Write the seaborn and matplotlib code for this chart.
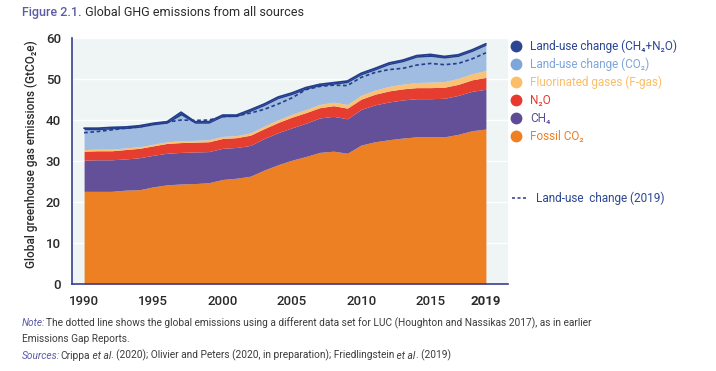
import numpy as np
import pandas as pd
import seaborn as sns
import matplotlib.pyplot as plt
from matplotlib.lines import Line2D

years = list(range(1990, 2020))

fossil_co2 = [22.6, 22.6, 22.6, 22.9, 23.0, 23.7, 24.2, 24.4, 24.5, 24.7,
              25.5, 25.8, 26.3, 27.8, 29.1, 30.2, 31.1, 32.1, 32.4, 31.9,
              33.9, 34.7, 35.2, 35.6, 35.9, 35.9, 35.9, 36.5, 37.4, 37.8]
ch4 = [7.6, 7.7, 7.7, 7.6, 7.8, 7.7, 7.7, 7.7, 7.7, 7.6,
       7.6, 7.5, 7.5, 7.7, 7.8, 7.9, 8.1, 8.4, 8.5, 8.4,
       8.7, 9.0, 9.2, 9.3, 9.3, 9.3, 9.4, 9.5, 9.6, 9.7]
n2o = [2.2, 2.2, 2.2, 2.3, 2.3, 2.3, 2.4, 2.4, 2.4, 2.4,
       2.4, 2.4, 2.5, 2.4, 2.5, 2.6, 2.6, 2.5, 2.6, 2.6,
       2.5, 2.6, 2.7, 2.7, 2.7, 2.7, 2.7, 2.7, 2.8, 2.9]
fgas = [0.4, 0.4, 0.4, 0.4, 0.4, 0.4, 0.4, 0.45, 0.45, 0.5,
        0.5, 0.5, 0.55, 0.6, 0.65, 0.7, 0.75, 0.8, 0.85, 0.9,
        0.95, 1.0, 1.1, 1.15, 1.25, 1.35, 1.35, 1.45, 1.5, 1.65]
luc_co2 = [4.8, 4.7, 4.9, 4.7, 4.7, 4.7, 4.5, 6.25, 4.15, 4.0,
           4.8, 4.6, 5.25, 5.0, 5.15, 4.8, 4.95, 4.5, 4.35, 5.3,
           4.95, 4.9, 5.3, 5.45, 6.15, 6.25, 5.75, 5.35, 5.4, 6.15]
luc_other = [0.4, 0.4, 0.4, 0.4, 0.4, 0.4, 0.4, 0.7, 0.4, 0.4,
             0.4, 0.4, 0.4, 0.4, 0.4, 0.4, 0.4, 0.4, 0.4, 0.4,
             0.4, 0.4, 0.4, 0.4, 0.4, 0.5, 0.4, 0.4, 0.4, 0.4]
# total with the alternative LUC data set (Houghton and Nassikas 2017)
total_alt_luc = [36.9, 37.2, 37.6, 38.0, 38.3, 39.0, 39.5, 40.0, 39.9, 40.0,
                 40.8, 41.0, 41.7, 42.6, 43.9, 45.4, 47.4, 48.2, 48.5, 48.4,
                 50.4, 51.6, 52.3, 52.6, 53.4, 53.8, 53.5, 53.8, 54.9, 56.4]

labels = ['Fossil CO\u2082', 'CH\u2084', 'N\u2082O', 'Fluorinated gases (F-gas)',
          'Land-use change (CO\u2082)', 'Land-use change (CH\u2084+N\u2082O)']
fill_colors = ['#ee8024', '#635099', '#e53e30', '#fbc274', '#a0bce0', '#233e8c']
label_colors = ['#ee7f22', '#5e4b97', '#e63a2e', '#fbbe6b', '#7ea6d9', '#2b4693']
xticks = [1990, 1995, 2000, 2005, 2010, 2015, 2019]

sns.set_theme(style="white")
plt.rcParams['font.family'] = ['Roboto', 'DejaVu Sans']

navy = '#3a3f8f'
dark = '#2a2a2a'

fig = plt.figure(figsize=(7.16, 3.71), dpi=100)
ax = fig.add_axes([0.1006, 0.2345, 0.609, 0.663])
ax.set_facecolor('#eff5f5')

stacks = [fossil_co2, ch4, n2o, fgas, luc_co2, luc_other]
ax.stackplot(years, *stacks, colors=fill_colors, linewidth=0)

df = pd.DataFrame({'year': years, 'total': np.sum(stacks, axis=0),
                   'alt': total_alt_luc})
sns.lineplot(data=df, x='year', y='total', color='#233e8c', linewidth=1.3, ax=ax)
sns.lineplot(data=df, x='year', y='alt', color='#233e8c', linewidth=1.2,
             dashes=(2.2, 1.6), ax=ax)

ax.set_xlim(1989.13, 2020.6)
ax.set_ylim(0, 60)
ax.set_yticks(range(0, 61, 10))
ax.set_xticks(xticks)
ax.yaxis.grid(True, color='white', linewidth=1.0)
ax.set_axisbelow(True)
for s in ['top', 'right']:
    ax.spines[s].set_visible(False)
for s in ['left', 'bottom']:
    ax.spines[s].set_color(navy)
    ax.spines[s].set_linewidth(1.2)
ax.tick_params(axis='both', direction='out', length=5, width=1.1, color=navy,
               labelsize=9.5, labelcolor=dark, pad=3)
for t in ax.get_xticklabels() + ax.get_yticklabels():
    t.set_fontweight('medium')
ax.get_xticklabels()[-1].set_fontweight('bold')
ax.set_xlabel('')
ax.set_ylabel('Global greenhouse gas emissions (GtCO\u2082e)', fontsize=8.5,
              color=dark, fontweight='medium', labelpad=6)
ax.yaxis.set_label_coords(-0.078, 0.53)

# legend (reverse order, coloured text)
handles = [Line2D([], [], marker='o', linestyle='', markersize=7.5,
                  color=c) for c in label_colors[::-1]]
leg = ax.legend(handles, labels[::-1], loc='upper left', frameon=False,
                bbox_to_anchor=(0.707, 0.907), bbox_transform=fig.transFigure,
                fontsize=8.5, handlelength=0.8, handletextpad=0.85,
                labelspacing=0.42, borderaxespad=0,
                labelcolor=label_colors[::-1])
ax.add_artist(leg)
dash_handle = Line2D([], [], color='#233e8c', linestyle=(0, (2, 1.6)), linewidth=1.1)
ax.legend([dash_handle], ['Land-use  change (2019)'], loc='upper left',
          frameon=False, bbox_to_anchor=(0.709, 0.497),
          bbox_transform=fig.transFigure, fontsize=8.5, handlelength=1.3,
          handletextpad=0.7, borderaxespad=0, labelcolor='#2b4693')

# caption texts built from runs
renderer = fig.canvas.get_renderer()
purple = '#5b5ba6'
body = '#3c3c3c'


def put_runs(x, y, runs, size):
    for s, kw in runs:
        t = fig.text(x, y, s, fontsize=size, va='baseline', **kw)
        bb = t.get_window_extent(renderer=renderer)
        x = bb.x1 / fig.bbox.width


put_runs(0.031, 0.958, [('Figure 2.1.', dict(color=purple, fontweight='medium')),
                        (' Global GHG emissions from all sources', dict(color=dark))], 9)

put_runs(0.031, 0.121, [('Note:', dict(color=purple, style='italic')),
                        ('The dotted line shows the global emissions using a different data set '
                         'for LUC (Houghton and Nassikas 2017), as in earlier', dict(color=body))], 7.3)
put_runs(0.031, 0.078, [('Emissions Gap Reports.', dict(color=body))], 7.3)
put_runs(0.031, 0.033, [('Sources:', dict(color=purple, style='italic')),
                        ('Crippa', dict(color=body)),
                        (' et al', dict(color=body, style='italic')),
                        ('. (2020); Olivier and Peters (2020, in preparation); Friedlingstein',
                         dict(color=body)),
                        (' et al', dict(color=body, style='italic')),
                        ('. (2019)', dict(color=body))], 7.3)

fig.savefig('out.png', dpi=100)
